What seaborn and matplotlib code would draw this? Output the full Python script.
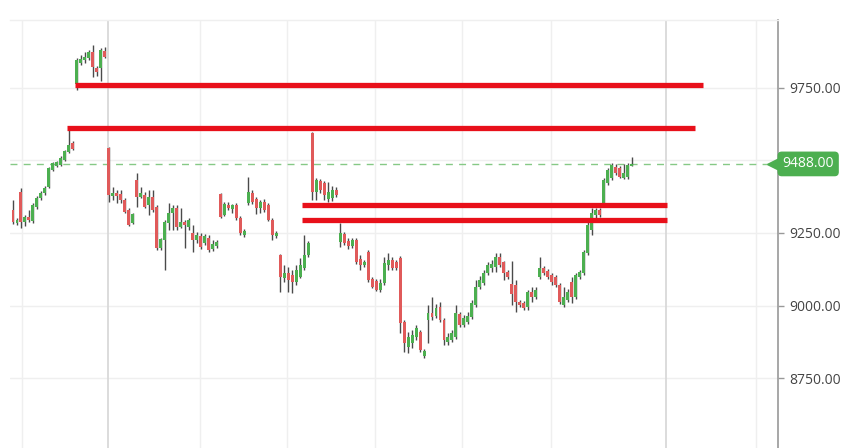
import matplotlib
matplotlib.use("Agg")
from matplotlib import pyplot as plt
import numpy as np
import pandas as pd
import seaborn as sns

# OHLC per candle (oldest first)
opens = [
  9329, 9284, 9391, 9288, 9305, 9291, 9340, 9371, 9388, 9409, 9467, 9481, 9484, 9502, 9529, 9560,
  9764, 9836, 9847, 9853, 9874, 9819, 9819, 9878,
  9543, 9378, 9388, 9385, 9364, 9329, 9284, 9433, 9374, 9381, 9347, 9374, 9340, 9198, 9226, 9284,
  9319, 9336, 9271, 9288, 9271, 9250, 9226, 9240, 9216, 9233, 9195, 9205,
  9385, 9312, 9347, 9333, 9347, 9302, 9243, 9353, 9388, 9367, 9336, 9357, 9347, 9295, 9240, 9174,
  9095, 9112, 9105, 9081, 9098, 9129, 9174, 9595, 9391, 9429, 9422, 9367, 9371, 9398,
  9219, 9247, 9222, 9205, 9226, 9160, 9140, 9184, 9091, 9085, 9053, 9078, 9140, 9157, 9150, 9164,
  8943, 8857, 8871, 8891, 8909, 8826, 8950, 8974, 8964, 8995, 8950, 8874,
  8881, 8891, 8971, 8933, 8943, 8960, 9002, 9064, 9078, 9112, 9129, 9133, 9167, 9150, 9116, 9074,
  9071, 9012, 9009, 8995, 9047, 9029, 9098, 9129, 9119, 9105, 9098, 9071, 9002, 9019, 9081, 9029,
  9098, 9112, 9181, 9260, 9312, 9329, 9353, 9422, 9440, 9478, 9474, 9440, 9443, 9481,
]
highs = [
  9364, 9302, 9405, 9312, 9329, 9353, 9378, 9395, 9412, 9478, 9495, 9498, 9516, 9536, 9605, 9567,
  9853, 9864, 9874, 9881, 9898, 9826, 9888, 9891,
  9547, 9409, 9398, 9398, 9371, 9336, 9319, 9457, 9409, 9391, 9398, 9398, 9347, 9233, 9295, 9353,
  9347, 9347, 9336, 9295, 9302, 9278, 9253, 9250, 9247, 9243, 9226, 9226,
  9388, 9357, 9357, 9350, 9353, 9309, 9264, 9443, 9398, 9374, 9364, 9367, 9353, 9302, 9257, 9178,
  9140, 9133, 9122, 9140, 9164, 9243, 9222, 9598, 9440, 9436, 9429, 9426, 9412, 9409,
  9284, 9253, 9233, 9233, 9233, 9174, 9157, 9191, 9098, 9091, 9091, 9167, 9181, 9167, 9157, 9171,
  8950, 8909, 8916, 8933, 8916, 8850, 9002, 9029, 9005, 9012, 8957, 8905,
  8916, 9002, 8978, 8967, 8978, 9019, 9088, 9102, 9122, 9150, 9157, 9181, 9181, 9153, 9122, 9153,
  9088, 9019, 9016, 9053, 9064, 9064, 9167, 9136, 9126, 9112, 9105, 9078, 9064, 9057, 9098, 9112,
  9122, 9191, 9288, 9336, 9336, 9336, 9440, 9474, 9491, 9488, 9481, 9488, 9491, 9512,
]
lows = [
  9281, 9278, 9267, 9274, 9288, 9284, 9333, 9364, 9381, 9405, 9464, 9478, 9481, 9498, 9526, 9536,
  9743, 9829, 9836, 9847, 9788, 9791, 9774, 9853,
  9357, 9364, 9353, 9353, 9319, 9274, 9281, 9340, 9371, 9336, 9312, 9322, 9191, 9191, 9122, 9260,
  9260, 9260, 9267, 9198, 9260, 9184, 9216, 9195, 9209, 9184, 9188, 9198,
  9302, 9309, 9329, 9319, 9295, 9243, 9236, 9347, 9350, 9316, 9319, 9322, 9291, 9226, 9233, 9047,
  9081, 9047, 9043, 9071, 9095, 9122, 9167, 9364, 9364, 9388, 9364, 9357, 9360, 9374,
  9202, 9209, 9195, 9198, 9143, 9122, 9133, 9081, 9060, 9050, 9047, 9071, 9122, 9122, 9122, 8905,
  8840, 8836, 8853, 8881, 8840, 8819, 8871, 8950, 8957, 8943, 8864, 8864,
  8874, 8884, 8926, 8926, 8936, 8953, 8995, 9057, 9071, 9105, 9116, 9116, 9133, 9088, 9091, 9002,
  8978, 8995, 8984, 8984, 9012, 9022, 9091, 9105, 9091, 9071, 9064, 9005, 8995, 9012, 9009, 9022,
  9091, 9105, 9174, 9243, 9302, 9305, 9347, 9415, 9433, 9450, 9440, 9436, 9436, 9481,
]
closes = [
  9288, 9295, 9288, 9305, 9295, 9347, 9371, 9388, 9405, 9474, 9491, 9495, 9509, 9533, 9553, 9540,
  9847, 9850, 9857, 9874, 9822, 9805, 9881, 9857,
  9381, 9388, 9378, 9364, 9322, 9278, 9316, 9374, 9388, 9340, 9374, 9329, 9198, 9229, 9288, 9319,
  9336, 9271, 9288, 9278, 9295, 9226, 9243, 9202, 9240, 9191, 9212, 9219,
  9305, 9350, 9336, 9347, 9302, 9250, 9257, 9391, 9357, 9336, 9357, 9329, 9295, 9243, 9250, 9098,
  9112, 9088, 9081, 9122, 9140, 9174, 9216, 9391, 9433, 9398, 9381, 9391, 9398, 9381,
  9250, 9216, 9205, 9226, 9150, 9140, 9150, 9088, 9064, 9053, 9078, 9147, 9157, 9129, 9129, 8940,
  8871, 8891, 8898, 8922, 8847, 8843, 8974, 8960, 8991, 8950, 8881, 8891,
  8905, 8974, 8933, 8957, 8964, 9009, 9064, 9088, 9112, 9140, 9143, 9167, 9140, 9112, 9098, 9040,
  9012, 9002, 8991, 9047, 9029, 9053, 9129, 9112, 9098, 9081, 9071, 9012, 9029, 9047, 9029, 9105,
  9116, 9184, 9278, 9319, 9329, 9312, 9433, 9467, 9484, 9457, 9443, 9457, 9484, 9488,
]

last_price = 9488
# drawn support / resistance levels (price, first candle, last candle)
levels = [9760, 9612, 9347, 9295]
level_from = [15.5, 13.5, 72.4, 72.4]
level_to = [173, 171, 164, 164]

price_ticks = [8750, 9000, 9250, 9500, 9750]
price_labels = ["8750.00", "9000.00", "9250.00", "", "9750.00"]
session_breaks = [2.3, 46.9, 68.7, 90.7, 112.5, 134.8, 186.2]
week_breaks = [23.8, 163.7]

green = "#4caf50"
red = "#e05a5a"

df = pd.DataFrame({"open": opens, "high": highs, "low": lows, "close": closes})
df["idx"] = np.arange(len(df))
df["up"] = df["close"] >= df["open"]
df["bottom"] = df[["open", "close"]].min(axis=1)
df["body"] = (df["close"] - df["open"]).abs().clip(lower=3)

sns.set_theme(style="white")
plt.rcParams["font.family"] = ["Open Sans", "DejaVu Sans"]

fig = plt.figure(figsize=(8.53, 4.48), dpi=100)
ax = fig.add_axes([10 / 853, 0, 768 / 853, 428 / 448])

# grid
for p in price_ticks:
  ax.axhline(p, color="#efefef", lw=1, zorder=0)
for b in session_breaks:
  ax.axvline(b, color="#efefef", lw=1, zorder=0)
for b in week_breaks:
  ax.axvline(b, color="#d6d6d6", lw=1.2, zorder=0)

# candles
ax.vlines(df["idx"], df["low"], df["high"], color="#4a4a4a", lw=1, zorder=2)
ax.bar(df["idx"], df["body"], bottom=df["bottom"], width=0.74,
       color=np.where(df["up"], green, red), linewidth=0, zorder=3)

# levels
ax.hlines(levels, level_from, level_to, color="#e8101a", lw=3.8, zorder=4)

# last price line + tag
ax.axhline(last_price, xmax=0.986, color="#86c986", lw=1, ls=(0, (5, 4.5)), zorder=1)
ax.plot([0.9935], [last_price], marker="<", ms=8, color=green, mec=green,
        transform=ax.get_yaxis_transform(), clip_on=False, zorder=6)
ax.annotate(f"{last_price:.2f}", xy=(1.0, last_price), xycoords=ax.get_yaxis_transform(),
            xytext=(3.2, 0), textcoords="offset points", ha="left", va="center",
            color="white", fontsize=10, annotation_clip=False, zorder=7,
            bbox=dict(boxstyle="round,pad=0.3,rounding_size=0.25", fc=green, ec=green))

ax.set_xlim(-0.75, 191.7)
ax.set_ylim(8509, 9984)
ax.set_xticks([])
ax.yaxis.tick_right()
ax.set_yticks(price_ticks)
ax.set_yticklabels(price_labels)
ax.tick_params(axis="y", right=True, length=4, width=1, color="#999999",
               labelsize=10, labelcolor="#444444", pad=4)

for side in ["left", "bottom"]:
  ax.spines[side].set_visible(False)
ax.spines["top"].set_color("#efefef")
ax.spines["top"].set_linewidth(1)
ax.spines["right"].set_color("#a0a0a0")
ax.spines["right"].set_linewidth(1.3)

plt.savefig("out.png", dpi=100)
plt.close()
